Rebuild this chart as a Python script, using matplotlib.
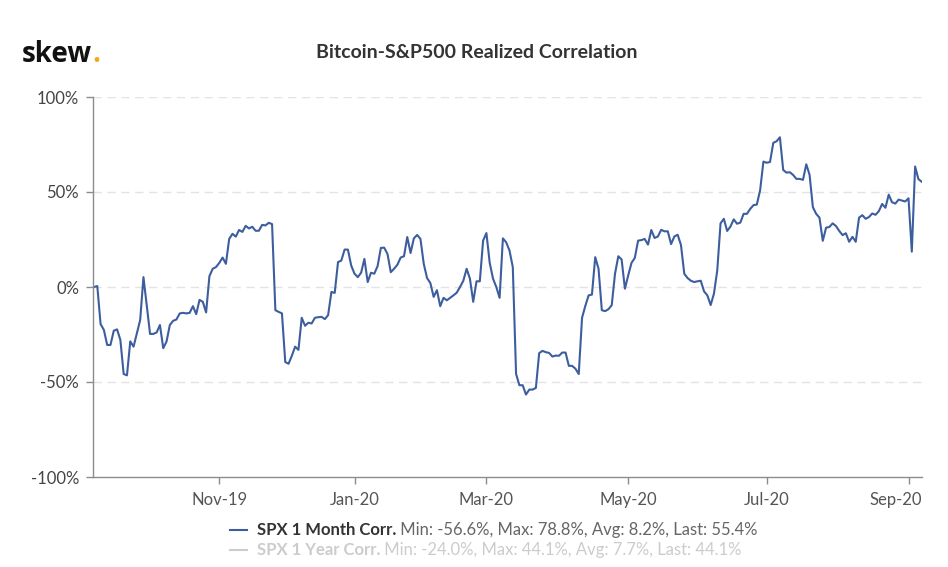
import numpy as np
import pandas as pd
import matplotlib
matplotlib.use("Agg")
import matplotlib.pyplot as plt
from matplotlib.lines import Line2D
from matplotlib.transforms import ScaledTranslation

# ---------------- data ----------------
corr_1m = [
    0, 0.5, -19.5, -22.6, -30.5, -30.5, -23, -22.3, -27.9, -45.8,
    -46.5, -28.6, -31.4, -24.4, -17.4, 5.2, -9.6, -24.7, -24.7, -23.9,
    -20, -32.2, -28.7, -20, -17.8, -17.1, -13.9, -13.6, -13.9, -13.6,
    -10.1, -14.3, -6.8, -7.8, -13.4, 5.7, 9.6, 10.5, 12.7, 15.5,
    12.2, 25.3, 28, 26.5, 30, 29, 32.2, 30.8, 31.7, 29.6,
    29.6, 32.7, 32.4, 33.8, 33.1, -12.2, -13.1, -13.9, -39.5, -40.4,
    -36.2, -31.4, -33.1,
    -16.2, -20.4, -18.8, -19.2, -16.2, -15.9, -15.7, -16.9, -14.8, -2.6,
    -3.1, 13.1, 13.9, 19.7, 19.7, 11.3, 7, 5.2, 7.5, 14.8,
    2.6, 7.5, 7, 11, 20.6, 20.7, 17.4, 7.8, 9.6, 11.7,
    15.5, 16.2, 26.3, 17.9, 25.6, 27.4, 25.3, 12.2, 4.7, 2.1,
    -5.2, -1.7, -10.1, -5.7, -7, -5.7, -4.4, -3, 0, 3.3,
    9.6, 4.4, -7.8, 3, 3, 24.4, 28.4, 12.7, 4.4,
    0, -5.7, 25.6, 23.5, 19.2, 10.5, -45.8, -51.7, -51.7, -56.6,
    -54, -54, -53.1, -34.8, -33.6, -34.3, -34.7, -36.6, -36.1, -36.2,
    -34.5, -34.5, -41.5, -41.5, -43, -45.8, -16.2, -9.9, -4.4, -4,
    15.7, 9.6, -12.2, -12.7, -11.7, -9.6, 7, 16.2, 14.5, -0.9,
    6.1, 12.7, 15.3, 24.4, 24.7, 25.3, 22.3, 30, 25.8, 26.6,
    30.1, 29.3, 29.3, 22.6, 26.6, 27.5, 22.1, 7, 4.7, 3.3,
    2.6, 3, 3.3, -2.3, -4.4,
    -9.5, -3.5, 8.7, 33.5, 35.9, 29.5, 31.8, 35.6, 33.3, 33.9,
    38.5, 38.5, 41.1, 43.1, 43.4, 50.9, 66, 65.4, 65.8, 75.9,
    76.7, 78.8, 61.6, 60.2, 60.4, 59, 56.9, 56.9, 56.4, 64.6,
    59, 42, 38.5, 36.5, 24.3, 31.2, 31.6, 33.5, 32.1, 29.5,
    27.3, 28.3, 23.8, 26.4, 23.8, 36.5, 37.8, 35.9, 36.8, 38.7,
    38, 39.9, 43.7, 41.7, 48.6, 44.6, 43.9, 46, 45.5, 45,
    46.7, 18.6, 63.4, 56.8, 55.4,
]
market_holidays = ["2019-11-28", "2019-12-25", "2020-01-01", "2020-01-20",
                   "2020-02-17", "2020-04-10", "2020-05-25", "2020-07-03",
                   "2020-09-07"]
last_date = "2020-09-08"
tick_months = ["2019-11", "2020-01", "2020-03", "2020-05", "2020-07", "2020-09"]
y_ticks = [-100, -50, 0, 50, 100]
title = "Bitcoin-S&P500 Realized Correlation"
series1_name = "SPX 1 Month Corr."
series1_stats = " Min: -56.6%, Max: 78.8%, Avg: 8.2%, Last: 55.4%"
series2_name = "SPX 1 Year Corr."
series2_stats = " Min: -24.0%, Max: 44.1%, Avg: 7.7%, Last: 44.1%"

# ---------------- figure ----------------
W, H = 948, 567
FONT = "Lato"
LINE_C = "#3d5e9e"
fig = plt.figure(figsize=(W / 100, H / 100), dpi=100)
ax = fig.add_axes([93 / W, 1 - 477 / H, 828.7 / W, 380 / H])

dates = pd.bdate_range(end=last_date, periods=len(corr_1m), freq="C",
                       holidays=market_holidays)
idx = np.arange(len(corr_1m))
ax.plot(idx, corr_1m, color=LINE_C, lw=1.5, solid_joinstyle="round")

ax.set_ylim(-100, 100)
ax.set_xlim(-0.3, len(corr_1m) - 1)
ax.set_yticks(y_ticks)
ax.set_yticklabels([f"{v}%" for v in y_ticks])
for v in y_ticks:
    if v != -100:
        ax.axhline(v, color="#e3e3e3", lw=1, ls=(0, (6, 4)), zorder=0)

tick_pos = []
tick_lab = []
for m in tick_months:
    p = pd.Period(m, freq="M")
    first = np.searchsorted(dates.values, np.datetime64(p.start_time))
    tick_pos.append(first)
    tick_lab.append(p.strftime("%b-%y"))
ax.set_xticks(tick_pos)
ax.set_xticklabels(tick_lab)

for s in ["top", "right"]:
    ax.spines[s].set_visible(False)
for s in ["left", "bottom"]:
    ax.spines[s].set_color("#8c8c8c")
    ax.spines[s].set_linewidth(1)
ax.tick_params(axis="both", colors="#8c8c8c", length=5, width=1)
ax.tick_params(axis="y", pad=5, labelcolor="#444444", labelsize=12)
ax.tick_params(axis="x", pad=6, labelcolor="#555555", labelsize=12)
for lab in ax.get_xticklabels() + ax.get_yticklabels():
    lab.set_family(FONT)

# title
fig.text(477 / W, 1 - 53 / H, title, ha="center", va="center",
         fontsize=14, fontweight="bold", color="#333333", family=FONT)

fig.canvas.draw()
r = fig.canvas.get_renderer()

# keep the last x label inside the plot area (justified to axis end)
last_lab = ax.get_xticklabels()[-1]
lb = last_lab.get_window_extent(renderer=r)
ab = ax.get_window_extent(renderer=r)
shift = min(0.0, ab.x1 - lb.x1)
last_lab.set_transform(last_lab.get_transform() +
                       ScaledTranslation(shift / fig.dpi, 0, fig.dpi_scale_trans))

# logo
logo = fig.text(22 / W, 1 - 54 / H, "skew", ha="left", va="center",
                fontsize=20, fontweight="bold", color="#111111",
                family="Open Sans")
bb = logo.get_window_extent(renderer=r)
fig.text(bb.x1 / W, 1 - 54 / H, ".", ha="left", va="center",
         fontsize=20, fontweight="bold", color="#f5a623", family="Open Sans")

# legend
def legend_row(y, sym_color, name, name_color, stats, stats_color):
    fig.add_artist(Line2D([230 / W, 247 / W], [1 - y / H, 1 - y / H],
                          color=sym_color, lw=1.5, transform=fig.transFigure))
    t1 = fig.text(257 / W, 1 - y / H, name, ha="left", va="center",
                  fontsize=12, fontweight="bold", color=name_color, family=FONT)
    b1 = t1.get_window_extent(renderer=r)
    fig.text(b1.x1 / W, 1 - y / H, stats, ha="left", va="center",
             fontsize=12, color=stats_color, family=FONT)

legend_row(530, LINE_C, series1_name, "#333333", series1_stats, "#666666")
legend_row(550, "#cccccc", series2_name, "#cccccc", series2_stats, "#cccccc")

fig.savefig("out.png", dpi=100)
